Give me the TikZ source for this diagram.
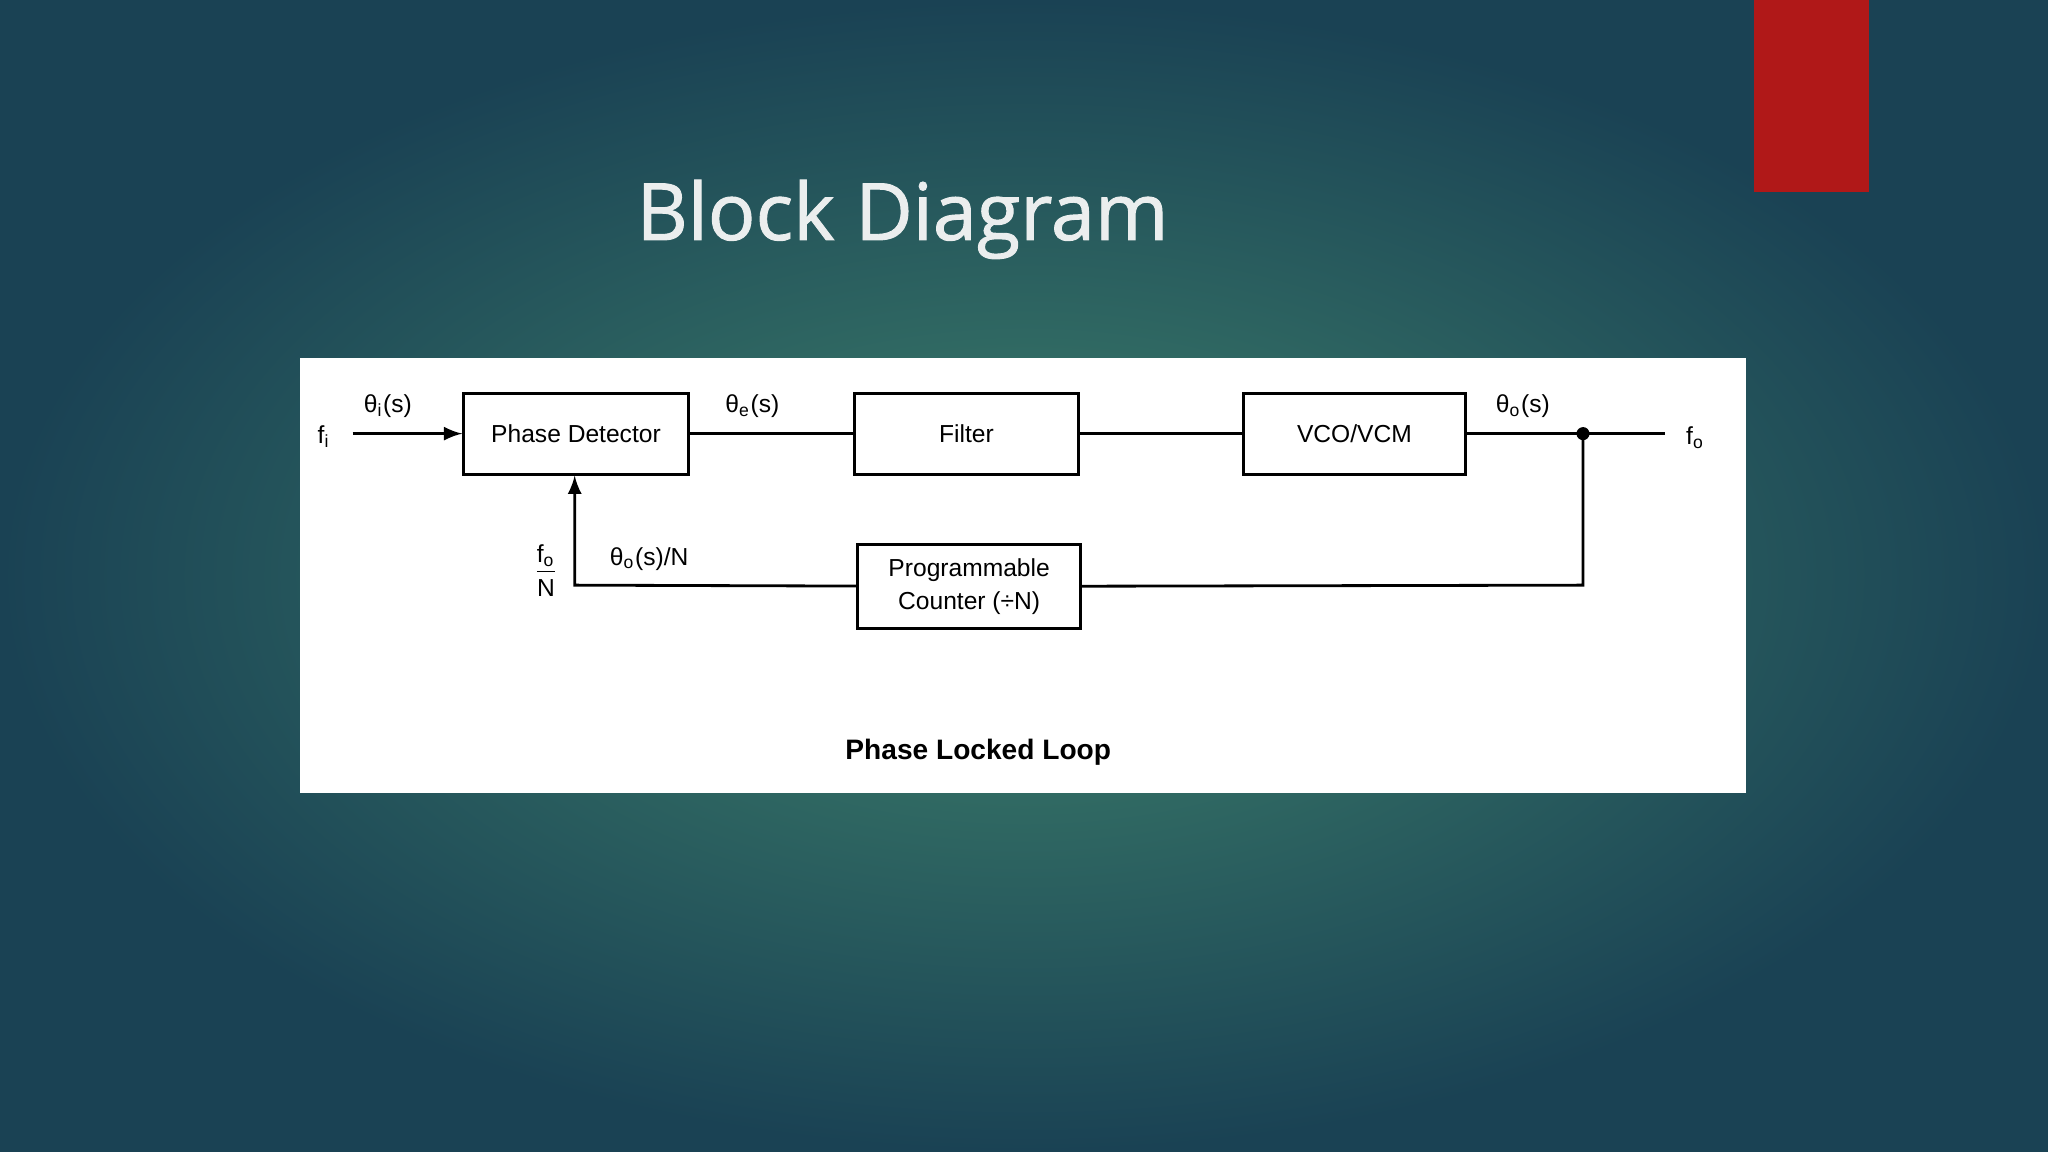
\documentclass[tikz,border=0pt]{standalone}
\usepackage{fontspec}
\setmainfont{Liberation Sans}
\newfontfamily\titlefont{Open Sans}[FakeBold=1.2]
\usetikzlibrary{arrows}
\tikzset{>=latex}
\def\pxu{0.01306cm}
\tikzset{
    blk/.style={draw, thick, fill=white, minimum width=172*\pxu, minimum height=62*\pxu, inner sep=0pt, font=\fontsize{7}{8.5}\selectfont, align=center},
    lbl/.style={font=\fontsize{7}{8.5}\selectfont, inner sep=0pt}
}
\begin{document}
\begin{tikzpicture}[x=\pxu, y=-\pxu]
    \useasboundingbox (0,0) rectangle (1568,882);

    % Background
    \shade[inner color={rgb,255:red,62;green,130;blue,108}, outer color={rgb,255:red,26;green,66;blue,84}] (0,0) rectangle (1568,882);
    \fill[fill={rgb,255:red,176;green,24;blue,24}] (1343,0) rectangle (1431,147);
    \node[text={rgb,255:red,235;green,238;blue,238}, font=\titlefont\fontsize{22.5}{26}\selectfont] (title) at (691,168) {Block Diagram};

    % Panel
    \fill[white] (230,274) rectangle (1337,607);

    % Blocks
    \node[blk] (pd) at (441,332) {Phase Detector};
    \node[blk] (filt) at (740,332) {Filter};
    \node[blk, minimum width=170*\pxu] (vco) at (1037,332) {VCO/VCM};
    \node[blk, minimum width=171*\pxu, minimum height=64*\pxu] (cnt) at (742,449) {Programmable\\[1pt]Counter (÷N)};

    \coordinate (in) at (270,332);
    \coordinate (tap) at (1212,332);
    \coordinate (out) at (1275,332);
    \coordinate (corner) at (1212,448);
    \coordinate (back) at (440,448);

    % Labels
    \node[lbl] (fi) at (248,334) {f\textsubscript{i}};
    \node[lbl] (thi) at (297,311) {θ\textsubscript{i}(s)};
    \node[lbl] (the) at (576,311) {θ\textsubscript{e}(s)};
    \node[lbl] (tho) at (1166,311) {θ\textsubscript{o}(s)};
    \node[lbl] (fo) at (1298,335) {f\textsubscript{o}};
    \node[lbl, align=center] (foN) at (418,437) {\underline{f\textsubscript{o}}\\[1pt]N};
    \node[lbl] (thoN) at (497,428) {θ\textsubscript{o}(s)/N};
    \node[font=\bfseries\fontsize{8}{10}\selectfont] (cap) at (749,576) {Phase Locked Loop};

    % Connections
    \draw[thick, ->] (in) -- (pd);
    \draw[thick] (pd) -- (filt);
    \draw[thick] (filt) -- (vco);
    \draw[thick] (vco) -- (tap) -- (out);
    \fill (tap) circle (5);
    \draw[thick] (tap) -- (corner) -- (cnt);
    \draw[thick, ->] (cnt) -- (back) -- (pd.south -| back);
\end{tikzpicture}
\end{document}
